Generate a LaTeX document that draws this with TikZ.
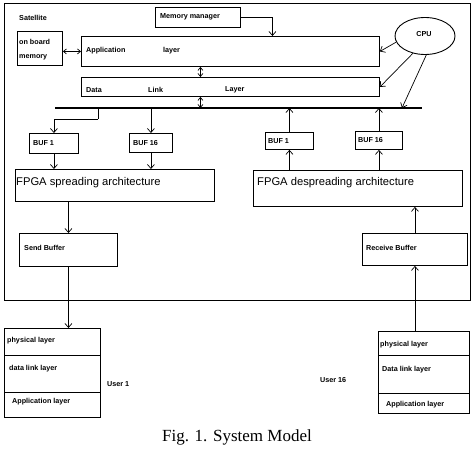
\documentclass[tikz,border=0pt]{standalone}
\usepackage{fontspec}
\setmainfont{Liberation Serif}
\setsansfont{Liberation Sans}
\usetikzlibrary{arrows.meta,shapes.geometric}
\begin{document}
\begin{tikzpicture}[x=1pt,y=-1pt,
  box/.style={draw,line width=0.9pt,rectangle,inner sep=0pt,anchor=north west},
  lbl/.style={anchor=west,inner sep=0pt,font=\sffamily\bfseries\fontsize{7.2}{8}\selectfont},
  big/.style={anchor=west,inner sep=0pt,font=\sffamily\fontsize{11.2}{13}\selectfont},
  conn/.style={line width=0.7pt,-{Straight Barb[length=4pt,width=7pt]}},
  dconn/.style={line width=0.7pt,{Straight Barb[length=3pt,width=5pt]}-{Straight Barb[length=3pt,width=5pt]}}]
\useasboundingbox (0,0) rectangle (474,450);
% satellite frame
\node[box,line width=1.2pt,minimum width=466pt,minimum height=297pt] (sat) at (4,3) {};
\node[lbl] (satl) at (19,18) {Satellite};
% top boxes
\node[box,minimum width=85pt,minimum height=20pt] (mm) at (155,7) {};
\node[lbl] (mml) at (160,17) {Memory manager};
\node[box,minimum width=298pt,minimum height=30pt] (app) at (81,36) {};
\node[lbl] (appa) at (86,51) {Application};
\node[lbl] (appb) at (163,51) {layer};
\node[box,minimum width=45pt,minimum height=34pt] (obm) at (17,31) {};
\node[lbl] (obma) at (19,42) {on board};
\node[lbl] (obmb) at (19,57) {memory};
\node[box,minimum width=298pt,minimum height=19pt] (dl) at (81,77) {};
\node[lbl] (dla) at (86,90) {Data};
\node[lbl] (dlb) at (148,90) {Link};
\node[lbl] (dlc) at (225,90) {Layer};
% bus
\coordinate (busL) at (55,108);
\coordinate (busR) at (422,108);
\draw[line width=2pt] (busL) -- (busR);
\coordinate (tapA) at (98,108);
\coordinate (busC) at (402,108);
% CPU
\node[draw,line width=0.9pt,ellipse,minimum width=60pt,minimum height=37pt,inner sep=0pt] (cpu) at (425,36) {};
\node[lbl,anchor=center] (cpul) at (424,34) {CPU};
% left buffers
\node[box,minimum width=49pt,minimum height=20pt] (bufaL) at (29,133) {};
\node[lbl] (bufaLl) at (33,143) {BUF 1};
\node[box,minimum width=43pt,minimum height=19pt] (bufbL) at (129,133) {};
\node[lbl] (bufbLl) at (133,143) {BUF 16};
\node[box,minimum width=199pt,minimum height=32pt] (fs) at (15,169) {};
\node[big] (fsl) at (16,183) {FPGA spreading architecture};
\node[box,minimum width=98pt,minimum height=33pt] (send) at (19,233) {};
\node[lbl] (sendl) at (24,248) {Send Buffer};
% right buffers
\node[box,minimum width=48pt,minimum height=17pt] (bufaR) at (265,132) {};
\node[lbl] (bufaRl) at (268,141) {BUF 1};
\node[box,minimum width=47pt,minimum height=18pt] (bufbR) at (355,131) {};
\node[lbl] (bufbRl) at (358,140) {BUF 16};
\node[box,minimum width=209pt,minimum height=36pt] (fd) at (253,170) {};
\node[big] (fdl) at (257,183) {FPGA despreading architecture};
\node[box,minimum width=105pt,minimum height=32pt] (recv) at (362,233) {};
\node[lbl] (recvl) at (366,248) {Receive Buffer};
% user 1
\node[box,minimum width=96pt,minimum height=89pt] (ua) at (4,328) {};
\draw[line width=0.7pt] (ua.west |- 0,355) -- (ua.east |- 0,355);
\draw[line width=0.7pt] (ua.west |- 0,392) -- (ua.east |- 0,392);
\node[lbl] (uaa) at (7,341) {physical layer};
\node[lbl] (uab) at (9,369) {data link layer};
\node[lbl] (uac) at (12,402) {Application layer};
\node[lbl] (ual) at (107,384) {User 1};
% user 16
\node[box,minimum width=91pt,minimum height=82pt] (ub) at (378,331) {};
\draw[line width=0.7pt] (ub.west |- 0,355) -- (ub.east |- 0,355);
\draw[line width=0.7pt] (ub.west |- 0,393) -- (ub.east |- 0,393);
\node[lbl] (uba) at (380,345) {physical layer};
\node[lbl] (ubb) at (382,370) {Data link layer};
\node[lbl] (ubc) at (386,405) {Application layer};
\node[lbl] (ubl) at (320,380) {User 16};
% caption
\node[font=\rmfamily\fontsize{17}{19}\selectfont,inner sep=0pt] (cap) at (237,437) {Fig. 1. System Model};
% connectors
\draw[dconn] (obm.east |- app.west) -- (app.west);
\draw[conn] (mm.east) -| ([xshift=42]app.north);
\draw[dconn] ([xshift=-30]app.south) -- ([xshift=-30]dl.north);
\draw[dconn] ([xshift=-30]dl.south) -- ([xshift=-30]dl.south |- busL);
\draw[conn] (cpu.192) -- (app.east);
\draw[conn] (cpu.235) -- (dl.east);
\draw[conn] (cpu.274) -- (busC);
\draw[line width=0.7pt] (tapA) -- ++(0,11) coordinate (tapB);
\draw[conn] (tapB) -| (bufaL.north);
\draw[conn] (bufbL.north |- tapA) -- (bufbL.north);
\draw[conn] (bufaL.south) -- (bufaL.south |- fs.north);
\draw[conn] (bufbL.south) -- (bufbL.south |- fs.north);
\draw[conn] (send.north |- fs.south) -- (send.north);
\draw[conn] (send.south) -- (send.south |- ua.north);
\draw[conn] (bufaR.north) -- (bufaR.north |- tapA);
\draw[conn] (bufbR.north) -- (bufbR.north |- tapA);
\draw[conn] (bufaR.south |- fd.north) -- (bufaR.south);
\draw[conn] (bufbR.south |- fd.north) -- (bufbR.south);
\draw[conn] (recv.north) -- (recv.north |- fd.south);
\draw[conn] (recv.south |- ub.north) -- (recv.south);
\end{tikzpicture}
\end{document}
